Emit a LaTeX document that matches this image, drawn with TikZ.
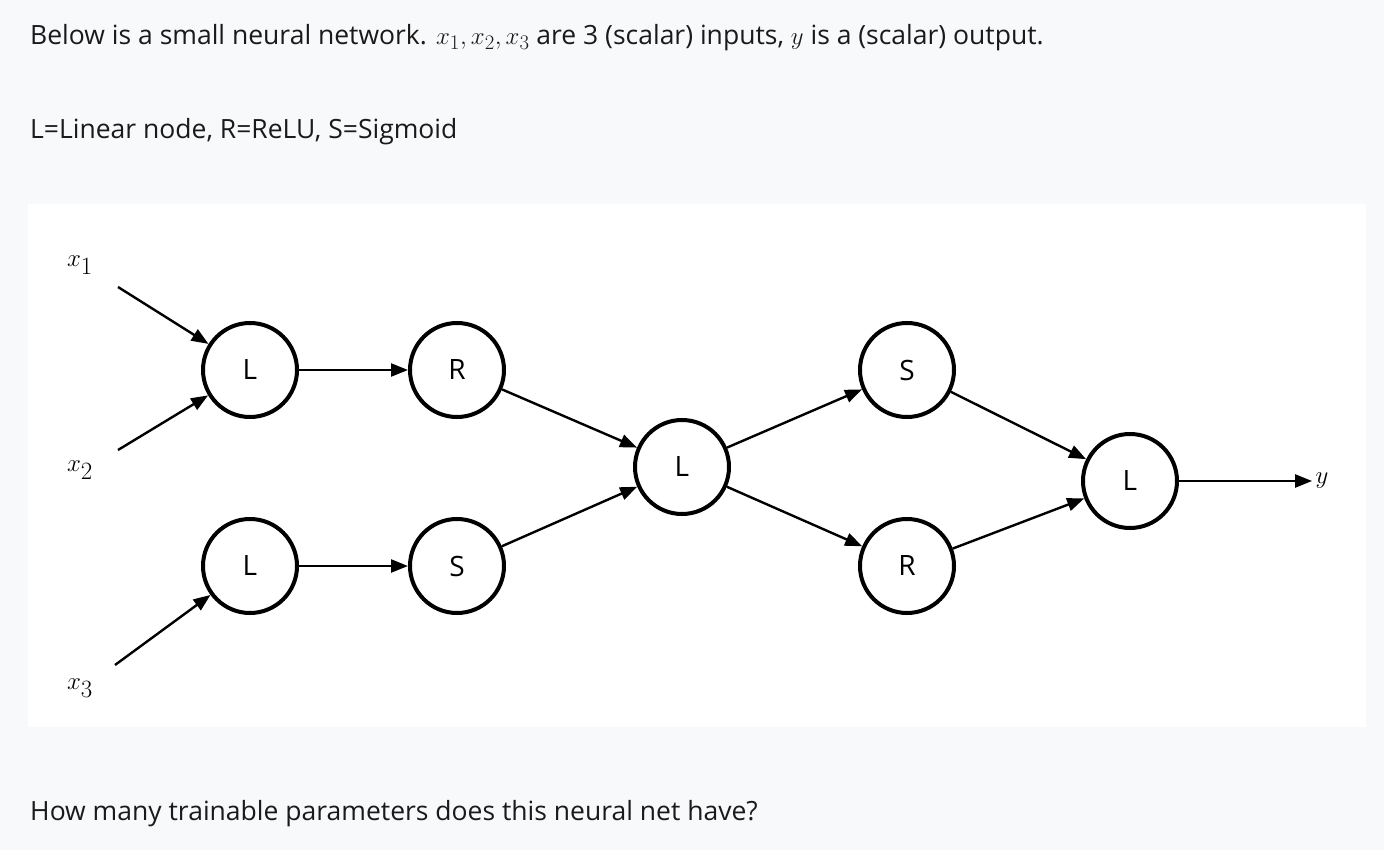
\documentclass[tikz,border=0pt]{standalone}
\usepackage{fontspec}
\setmainfont{Open Sans}
\usetikzlibrary{arrows.meta}
\definecolor{bgc}{HTML}{F8F9FB}
\definecolor{tc}{HTML}{1A1A1A}
\begin{document}
\begin{tikzpicture}[x=1pt,y=-1pt,
  nn/.style={circle,draw,line width=4pt,minimum size=94pt,inner sep=0pt,font=\fontsize{28}{30}\selectfont},
  arr/.style={line width=2.4pt,-{Triangle[length=17pt,width=13pt]}},
  lab/.style={font=\fontsize{36}{38}\selectfont},
  txt/.style={anchor=west,inner sep=0pt,text=tc,font=\fontsize{26.5}{30}\selectfont}]
\fill[bgc] (0,0) rectangle (1384,850);
\useasboundingbox (0,0) rectangle (1384,850);
\fill[white] (28,204) rectangle (1366,727);
\node[txt] (t1) at (30,38) {Below is a small neural network. {\fontsize{32}{34}\selectfont$x_1, x_2, x_3$} are 3 (scalar) inputs, {\fontsize{32}{34}\selectfont$y$} is a (scalar) output.};
\node[txt] (t2) at (30,132) {L=Linear node, R=ReLU, S=Sigmoid};
\node[txt] (t3) at (30,814) {How many trainable parameters does this neural net have?};
\node[lab] (x1) at (80,265) {$x_1$};
\node[lab] (x2) at (80,470) {$x_2$};
\node[lab] (x3) at (80,688) {$x_3$};
\node[lab] (y) at (1322,481) {$y$};
\coordinate (c1) at (118,287);
\coordinate (c2) at (118,450);
\coordinate (c3) at (115,665);
\node[nn] (L1) at (250,370) {L};
\node[nn] (L2) at (250,566) {L};
\node[nn] (R1) at (457,370) {R};
\node[nn] (S1) at (457,566) {S};
\node[nn] (L3) at (682,467) {L};
\node[nn] (S2) at (907,370) {S};
\node[nn] (R2) at (907,566) {R};
\node[nn] (L4) at (1130,481) {L};
\draw[arr] (c1) -- (L1);
\draw[arr] (c2) -- (L1);
\draw[arr] (c3) -- (L2);
\draw[arr] (L1) -- (R1);
\draw[arr] (L2) -- (S1);
\draw[arr] (R1) -- (L3);
\draw[arr] (S1) -- (L3);
\draw[arr] (L3) -- (S2);
\draw[arr] (L3) -- (R2);
\draw[arr] (S2) -- (L4);
\draw[arr] (R2) -- (L4);
\draw[arr] (L4) -- (y);
\end{tikzpicture}
\end{document}
